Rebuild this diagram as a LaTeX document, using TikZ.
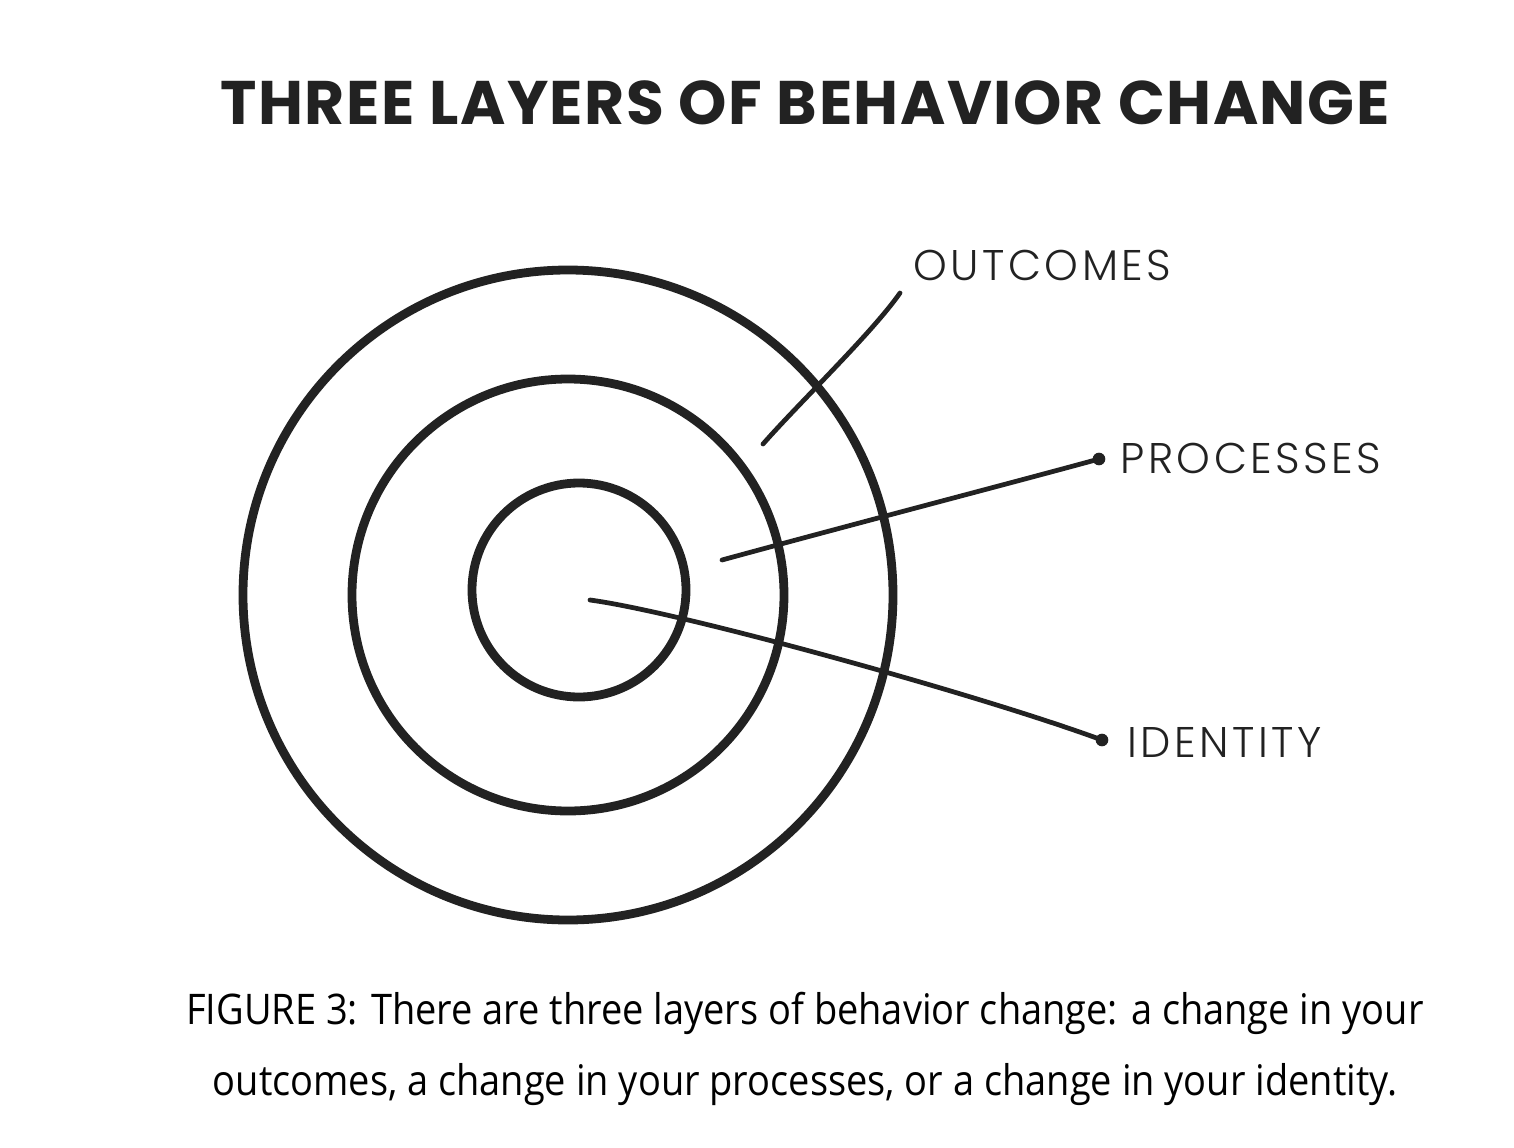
\documentclass[tikz,border=0pt]{standalone}
\usepackage{fontspec}
\usepackage{tikz}
\usetikzlibrary{calc}
\newfontfamily\titlefont{Poppins}[LetterSpace=2.5]
\newfontfamily\labelfont{Poppins}[UprightFont={* Light}, LetterSpace=8]
\newfontfamily\capfont{Open Sans}[FakeStretch=0.9]
\definecolor{ink}{HTML}{222222}

\begin{document}
\begin{tikzpicture}[x=0.01cm, y=-0.01cm,
  ring/.style={line width=2.5pt, draw=ink},
  leader/.style={line width=1.35pt, draw=ink, line cap=round},
  tipdot/.style={circle, fill=ink, inner sep=0pt, minimum size=3.6pt},
  tag/.style={font=\labelfont\fontsize{12.2}{14}\selectfont, text=ink, anchor=west, inner sep=0pt},
  caption/.style={font=\capfont\fontsize{12}{14}\selectfont, text=black, inner sep=0pt}]
\useasboundingbox (0,0) rectangle (1514,1148);

% Title
\node[font=\titlefont\bfseries\fontsize{17.5}{20}\selectfont, text=ink, inner sep=0pt] (title) at (805,103) {THREE LAYERS OF BEHAVIOR CHANGE};

% Three rings
\pgfmathsetmacro{\cx}{568}
\pgfmathsetmacro{\cy}{595}
\draw[ring] (\cx,\cy) circle (325); % outcomes
\draw[ring] (\cx,\cy) circle (216); % processes
\draw[ring] (\cx+11,\cy-5) circle (107); % identity

% Labels
\node[tag] (outcomes) at (913,265) {OUTCOMES};
\node[tag] (processes) at (1120,458) {PROCESSES};
\node[tag] (identity) at (1127,742) {IDENTITY};

% Leader lines
\coordinate (outStart) at (763,444);
\coordinate (outEnd) at (900,293);
\coordinate (procStart) at (722,560);
\node[tipdot] (procDot) at (1099,459) {};
\coordinate (idStart) at (590,600);
\node[tipdot] (idDot) at (1102,740) {};
\draw[leader] (outStart) .. controls (800,402) and (872,333) .. (outEnd);
\draw[leader] (procStart) .. controls (850,525) and (1030,478) .. (procDot.center);
\draw[leader] (idStart) .. controls (680,612) and (980,695) .. (idDot.center);

% Caption
\node[caption] (capA) at (805,1013) {FIGURE 3: There are three layers of behavior change: a change in your};
\node[caption] (capB) at (805,1085) {outcomes, a change in your processes, or a change in your identity.};

\end{tikzpicture}
\end{document}
